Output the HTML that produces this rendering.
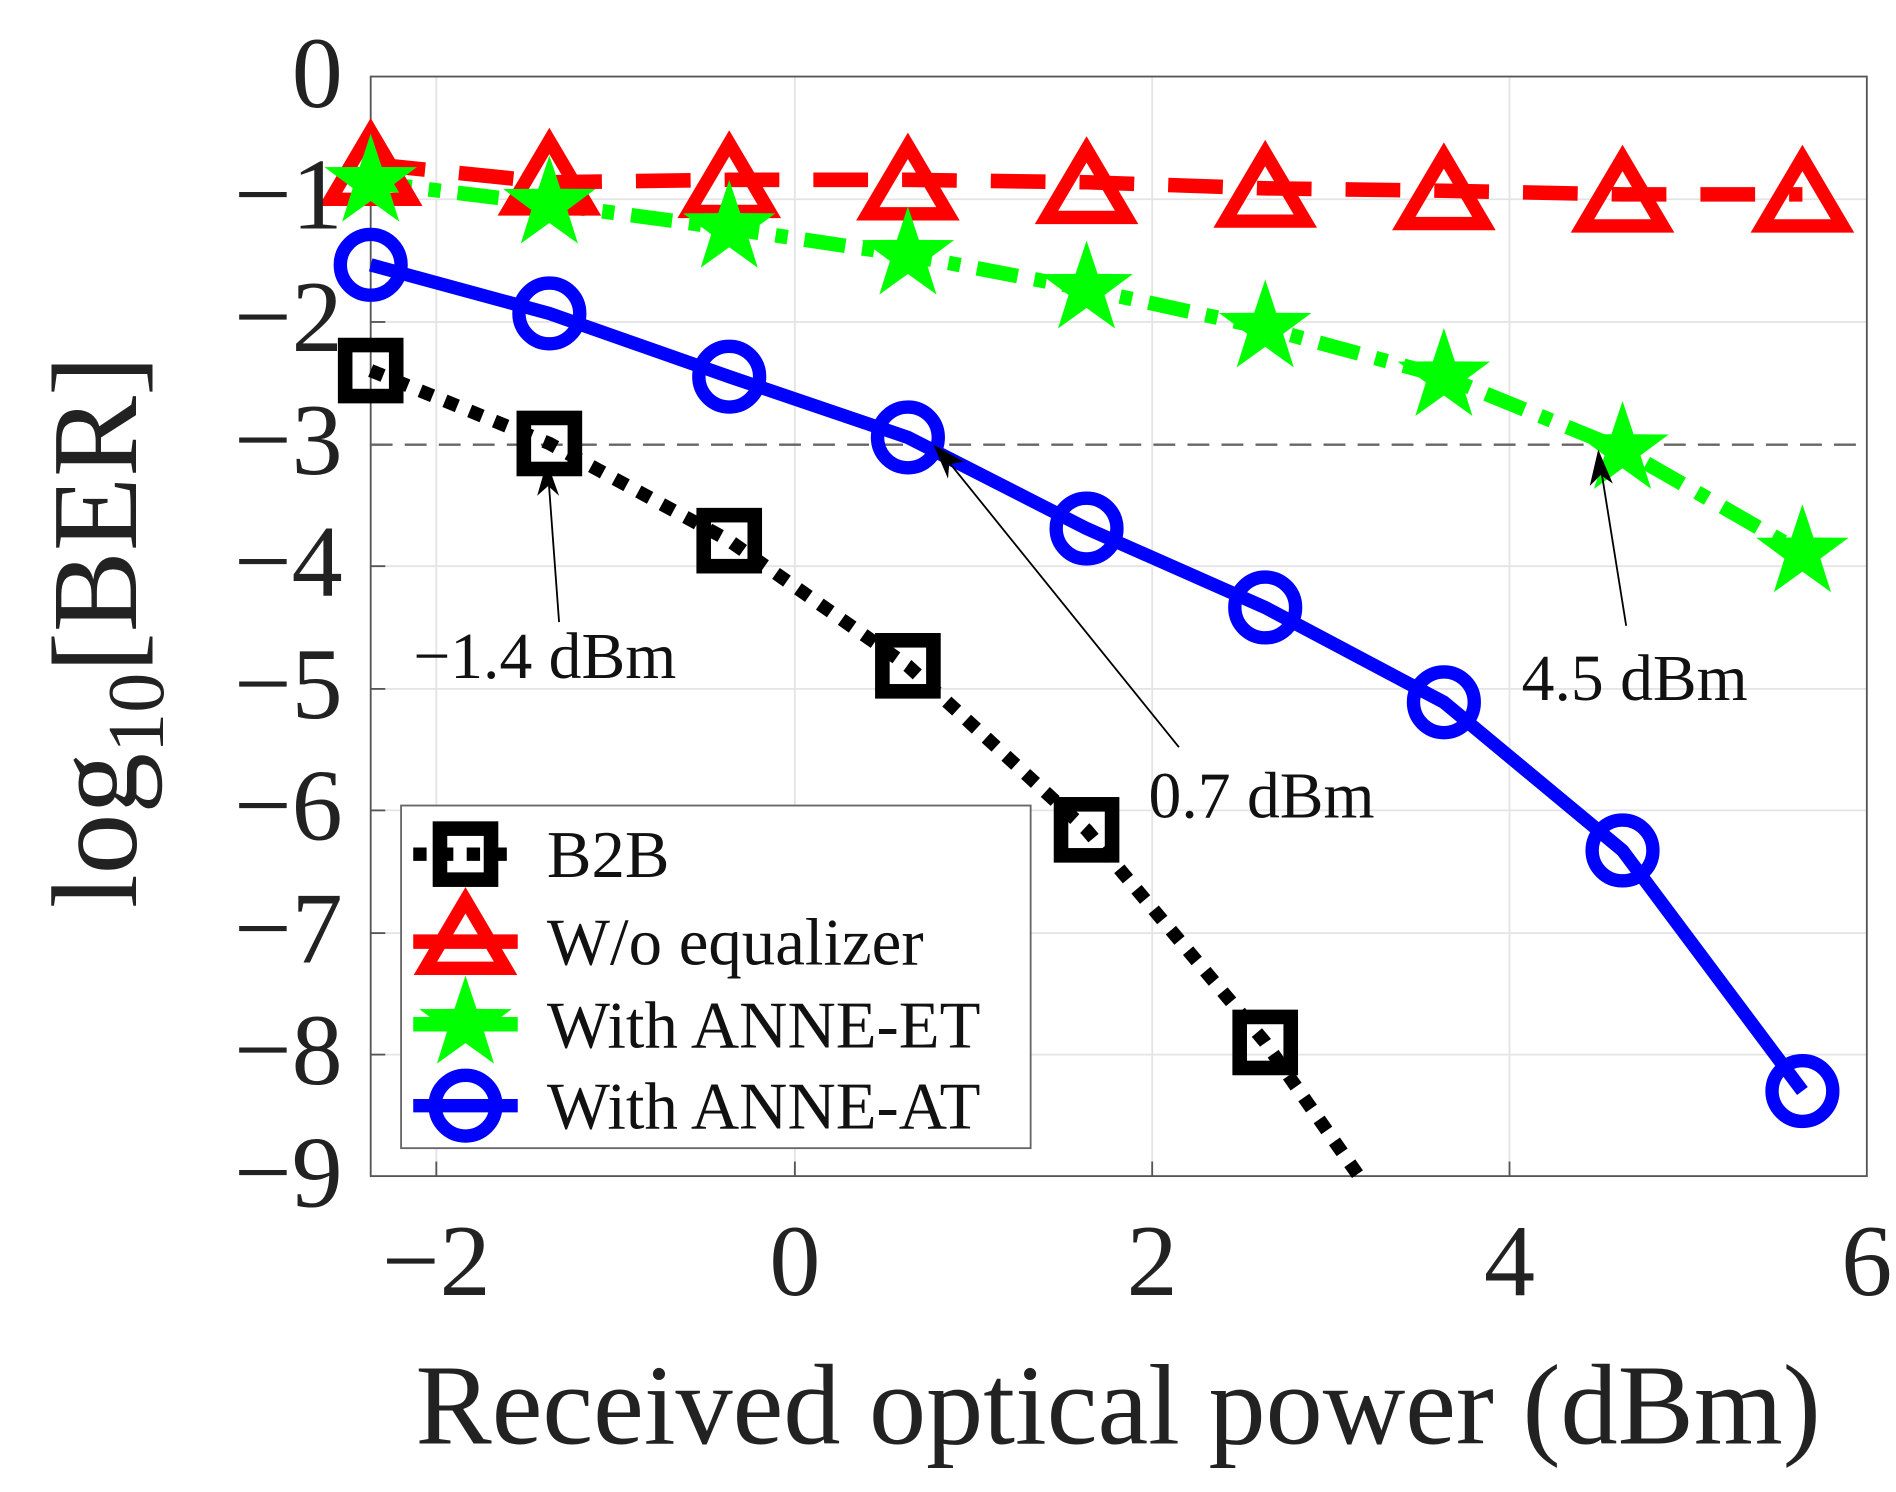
<!DOCTYPE html>
<html><head><meta charset="utf-8"><style>html,body{margin:0;padding:0;background:#fff}svg{display:block}</style></head>
<body>
<svg width="1896" height="1492" viewBox="0 0 1560 1228" preserveAspectRatio="none" xmlns="http://www.w3.org/2000/svg" font-family="Liberation Serif, serif">
<defs>
<path id="st" d="M0,-40 L9.1,-12.6 L38,-12.4 L14.8,4.8 L23.5,32.4 L0,15.5 L-23.5,32.4 L-14.8,4.8 L-38,-12.4 L-9.1,-12.6 Z" fill="#00ff00"/>
<path id="tr" d="M0,-32 L33,24 L-33,24 Z" fill="none" stroke="#ff0000" stroke-width="11" stroke-linejoin="miter"/>
<circle id="ci" r="25" fill="none" stroke="#0000ff" stroke-width="11"/>
<rect id="sq" x="-21" y="-21" width="42" height="42" fill="none" stroke="#000" stroke-width="12"/>
</defs>
<g stroke="#e4e4e4" stroke-width="1.5">
<line x1="305" y1="164" x2="1536" y2="164"/><line x1="305" y1="265" x2="1536" y2="265"/>
<line x1="305" y1="466" x2="1536" y2="466"/><line x1="305" y1="567" x2="1536" y2="567"/>
<line x1="305" y1="667" x2="1536" y2="667"/><line x1="305" y1="768" x2="1536" y2="768"/>
<line x1="305" y1="868" x2="1536" y2="868"/>
<line x1="359" y1="63" x2="359" y2="968"/><line x1="654" y1="63" x2="654" y2="968"/>
<line x1="948" y1="63" x2="948" y2="968"/><line x1="1242" y1="63" x2="1242" y2="968"/>
</g>
<rect x="305" y="63" width="1231" height="905" fill="none" stroke="#555" stroke-width="1.5"/>
<g stroke="#555" stroke-width="1.5">
<line x1="305" y1="164" x2="317" y2="164"/><line x1="305" y1="265" x2="317" y2="265"/><line x1="305" y1="366" x2="317" y2="366"/><line x1="305" y1="466" x2="317" y2="466"/><line x1="305" y1="567" x2="317" y2="567"/><line x1="305" y1="667" x2="317" y2="667"/><line x1="305" y1="768" x2="317" y2="768"/><line x1="305" y1="868" x2="317" y2="868"/>
<line x1="359" y1="968" x2="359" y2="956"/><line x1="654" y1="968" x2="654" y2="956"/><line x1="948" y1="968" x2="948" y2="956"/><line x1="1242" y1="968" x2="1242" y2="956"/>
</g>
<line x1="305" y1="366" x2="1536" y2="366" stroke="#666" stroke-width="2" stroke-dasharray="18,10"/>
<polyline points="305,135 452,150 600,148 747,148 894,150 1041,155 1188,157 1335,160 1483,160" fill="none" stroke="#ff0000" stroke-width="12" stroke-dasharray="45,28"/>
<polyline points="305,150 452,168 600,188 747,210 894,238 1041,270 1188,310 1335,370 1483,455" fill="none" stroke="#00ff00" stroke-width="12" stroke-dasharray="34,14,10,14"/>
<polyline points="305,218 452,258 600,310 747,360 894,435 1041,500 1188,578 1335,700 1483,898" fill="none" stroke="#0000ff" stroke-width="11"/>
<polyline points="305,305 452,365 600,445 747,548 894,683 1041,858 1118,968" fill="none" stroke="#000" stroke-width="11" stroke-dasharray="11,11"/>
<g>
<use href="#sq" x="305" y="305"/><use href="#sq" x="452" y="365"/><use href="#sq" x="600" y="445"/><use href="#sq" x="747" y="548"/><use href="#sq" x="894" y="683"/><use href="#sq" x="1041" y="858"/>
<use href="#tr" x="305" y="140"/><use href="#tr" x="452" y="148"/><use href="#tr" x="600" y="150"/><use href="#tr" x="747" y="152"/><use href="#tr" x="894" y="155"/><use href="#tr" x="1041" y="158"/><use href="#tr" x="1188" y="160"/><use href="#tr" x="1335" y="162"/><use href="#tr" x="1483" y="162"/>
<use href="#st" x="305" y="150"/><use href="#st" x="452" y="168"/><use href="#st" x="600" y="188"/><use href="#st" x="747" y="210"/><use href="#st" x="894" y="238"/><use href="#st" x="1041" y="270"/><use href="#st" x="1188" y="310"/><use href="#st" x="1335" y="370"/><use href="#st" x="1483" y="455"/>
<use href="#ci" x="305" y="218"/><use href="#ci" x="452" y="258"/><use href="#ci" x="600" y="310"/><use href="#ci" x="747" y="360"/><use href="#ci" x="894" y="435"/><use href="#ci" x="1041" y="500"/><use href="#ci" x="1188" y="578"/><use href="#ci" x="1335" y="700"/><use href="#ci" x="1483" y="898"/>
</g>
<g stroke="#000" stroke-width="1.5" fill="none">
<line x1="460" y1="512" x2="451" y2="390"/><line x1="970" y1="615" x2="774" y2="372"/><line x1="1338" y1="515" x2="1316" y2="378"/>
</g>
<g fill="#000">
<path d="M450,380 L460,408 L451,400 L442,408 Z"/>
<path d="M768,366 L793,380 L781,382 L780,394 Z"/>
<path d="M1315,370 L1327,398 L1317,391 L1308,400 Z"/>
</g>
<g font-size="54" fill="#111">
<text x="340" y="558">−1.4 dBm</text>
<text x="945" y="673">0.7 dBm</text>
<text x="1252" y="576">4.5 dBm</text>
</g>
<rect x="330" y="663" width="518" height="282" fill="#fff" stroke="#666" stroke-width="1.5"/>
<g>
<line x1="340" y1="703" x2="426" y2="703" stroke="#000" stroke-width="11" stroke-dasharray="11,11"/><use href="#sq" x="383" y="703"/>
<line x1="340" y1="775" x2="426" y2="775" stroke="#f00" stroke-width="12"/><use href="#tr" x="383" y="773"/>
<line x1="340" y1="843" x2="426" y2="843" stroke="#0f0" stroke-width="12"/><use href="#st" x="383" y="843"/>
<line x1="340" y1="910" x2="426" y2="910" stroke="#00f" stroke-width="11"/><use href="#ci" x="383" y="910"/>
</g>
<g font-size="55" fill="#111">
<text x="450" y="722">B2B</text>
<text x="450" y="794">W/o equalizer</text>
<text x="450" y="862">With ANNE-ET</text>
<text x="450" y="929">With ANNE-AT</text>
</g>
<g font-size="84" fill="#222" text-anchor="end">
<text x="282" y="88">0</text>
<text x="282" y="188">−1</text>
<text x="282" y="289">−2</text>
<text x="282" y="390">−3</text>
<text x="282" y="490">−4</text>
<text x="282" y="591">−5</text>
<text x="282" y="691">−6</text>
<text x="282" y="792">−7</text>
<text x="282" y="892">−8</text>
<text x="282" y="993">−9</text>
</g>
<g font-size="84" fill="#222" text-anchor="middle">
<text x="359" y="1066">−2</text>
<text x="654" y="1066">0</text>
<text x="948" y="1066">2</text>
<text x="1242" y="1066">4</text>
<text x="1536" y="1066">6</text>
</g>
<text x="920" y="1188" font-size="94" fill="#222" text-anchor="middle">Received optical power (dBm)</text>
<text transform="translate(112,520) rotate(-90)" font-size="100" fill="#222" text-anchor="middle">log<tspan font-size="66" dy="22">10</tspan><tspan dy="-22">[BER]</tspan></text>
</svg>
</body></html>
